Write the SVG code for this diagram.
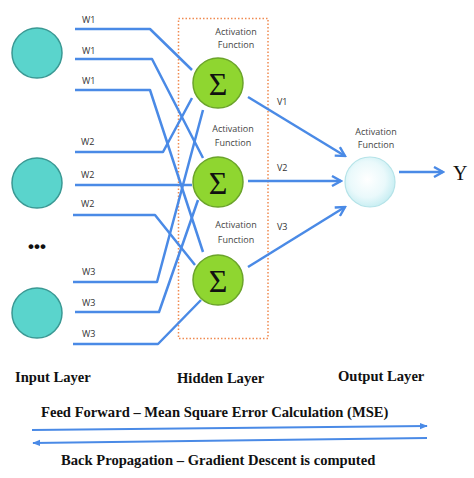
<svg xmlns="http://www.w3.org/2000/svg" width="474" height="478" viewBox="0 0 474 478">
<style>
.in{fill:#5ad4cc;stroke:#3a9994;stroke-width:1.5}
.hid{fill:#8fd630;stroke:#6ba42a;stroke-width:1.5}
.sig{font-family:"Liberation Serif",serif;font-size:32px;fill:#111;text-anchor:middle}
.w{font-family:"Open Sans","Noto Sans",sans-serif;font-size:9px;fill:#333}
.act{font-family:"Open Sans","Noto Sans",sans-serif;font-size:9px;fill:#444;text-anchor:middle}
.c{fill:none;stroke:#4a8ae6;stroke-width:2.5;stroke-linejoin:round}
.lbl{font-family:"Liberation Serif",serif;font-weight:bold;font-size:14.6px;fill:#111}
</style>
<defs>
<marker id="chev" viewBox="0 0 12 12" refX="10" refY="6" markerWidth="12" markerHeight="12" markerUnits="userSpaceOnUse" orient="auto">
<path d="M1,1 L10,6 L1,11" fill="none" stroke="#4a8ae6" stroke-width="2.4"/>
</marker>
<marker id="tri" viewBox="0 0 10 10" refX="9" refY="5" markerWidth="8" markerHeight="8" markerUnits="userSpaceOnUse" orient="auto">
<path d="M0,1 L10,5 L0,9 Z" fill="#4a8ae6"/>
</marker>
<radialGradient id="og" cx="0.45" cy="0.45" r="0.6">
<stop offset="0" stop-color="#ffffff"/>
<stop offset="0.6" stop-color="#eaf9fb"/>
<stop offset="1" stop-color="#c2ecf1"/>
</radialGradient>
</defs>
<rect width="474" height="478" fill="#fff"/>

<rect x="178.5" y="18.5" width="89.5" height="320" fill="none" stroke="#f08a50" stroke-width="1.5" stroke-dasharray="1.5,2"/>

<g id="connectors">
<polyline class="c" points="75,29 150,29 192,70"/>
<polyline class="c" points="75,59 152,59 203,158"/>
<polyline class="c" points="75,90 150,90 203,252"/>
<polyline class="c" points="75,152 163,152 192,98"/>
<polyline class="c" points="75,185 192,185"/>
<polyline class="c" points="73,215 155,215 195,265"/>
<polyline class="c" points="73,282 157,282 203,110"/>
<polyline class="c" points="75,312 159,312 198,200"/>
<polyline class="c" points="73,344 158,344 201,300"/>
<line class="c" x1="248" y1="97" x2="345" y2="156" marker-end="url(#chev)"/>
<line class="c" x1="248" y1="181" x2="341" y2="181" marker-end="url(#chev)"/>
<line class="c" x1="248" y1="267" x2="345" y2="207" marker-end="url(#chev)"/>
<line class="c" x1="399" y1="172" x2="443" y2="172" marker-end="url(#chev)"/>
<line x1="32" y1="430" x2="427" y2="426" stroke="#4a8ae6" stroke-width="2" marker-end="url(#tri)"/>
<line x1="427" y1="438" x2="33" y2="443" stroke="#4a8ae6" stroke-width="2" marker-end="url(#tri)"/>
</g>

<g id="weights">
<text class="w" x="82" y="23">W1</text>
<text class="w" x="82" y="54">W1</text>
<text class="w" x="82" y="84">W1</text>
<text class="w" x="81" y="145">W2</text>
<text class="w" x="81" y="178">W2</text>
<text class="w" x="81" y="207">W2</text>
<text class="w" x="82" y="275">W3</text>
<text class="w" x="82" y="306">W3</text>
<text class="w" x="82" y="337">W3</text>
<text class="w" x="277" y="105">V1</text>
<text class="w" x="277" y="171">V2</text>
<text class="w" x="277" y="230">V3</text>
</g>

<g id="input1"><circle class="in" cx="37" cy="53" r="25"/></g>
<g id="input2"><circle class="in" cx="37" cy="183" r="25"/></g>
<g id="dots"><text x="37" y="252" font-family="Liberation Sans,sans-serif" font-weight="bold" font-size="17" text-anchor="middle" fill="#111">•••</text></g>
<g id="input3"><circle class="in" cx="37" cy="313" r="25"/></g>

<g id="hidden1">
<text class="act" x="236" y="35">Activation</text>
<text class="act" x="236" y="48">Function</text>
<circle class="hid" cx="218" cy="83" r="25"/>
<text class="sig" x="218" y="95">Σ</text>
</g>
<g id="hidden2">
<text class="act" x="233" y="132">Activation</text>
<text class="act" x="233" y="146">Function</text>
<circle class="hid" cx="218" cy="182" r="25"/>
<text class="sig" x="218" y="194">Σ</text>
</g>
<g id="hidden3">
<text class="act" x="236" y="228">Activation</text>
<text class="act" x="236" y="243">Function</text>
<circle class="hid" cx="218" cy="280" r="25"/>
<text class="sig" x="218" y="292">Σ</text>
</g>

<g id="output">
<text class="act" x="376" y="135">Activation</text>
<text class="act" x="376" y="148">Function</text>
<circle cx="370" cy="182" r="25" fill="url(#og)" stroke="#b5e3e8" stroke-width="1.2"/>
</g>
<g id="y"><text x="453" y="180" font-family="Liberation Serif,serif" font-size="20" fill="#111">Y</text></g>

<g id="labels">
<text class="lbl" x="15" y="382">Input Layer</text>
<text class="lbl" x="177" y="383">Hidden Layer</text>
<text class="lbl" x="338" y="381">Output Layer</text>
<text class="lbl" x="41" y="417">Feed Forward – Mean Square Error Calculation (MSE)</text>
<text class="lbl" x="61" y="465">Back Propagation – Gradient Descent is computed</text>
</g>
</svg>
